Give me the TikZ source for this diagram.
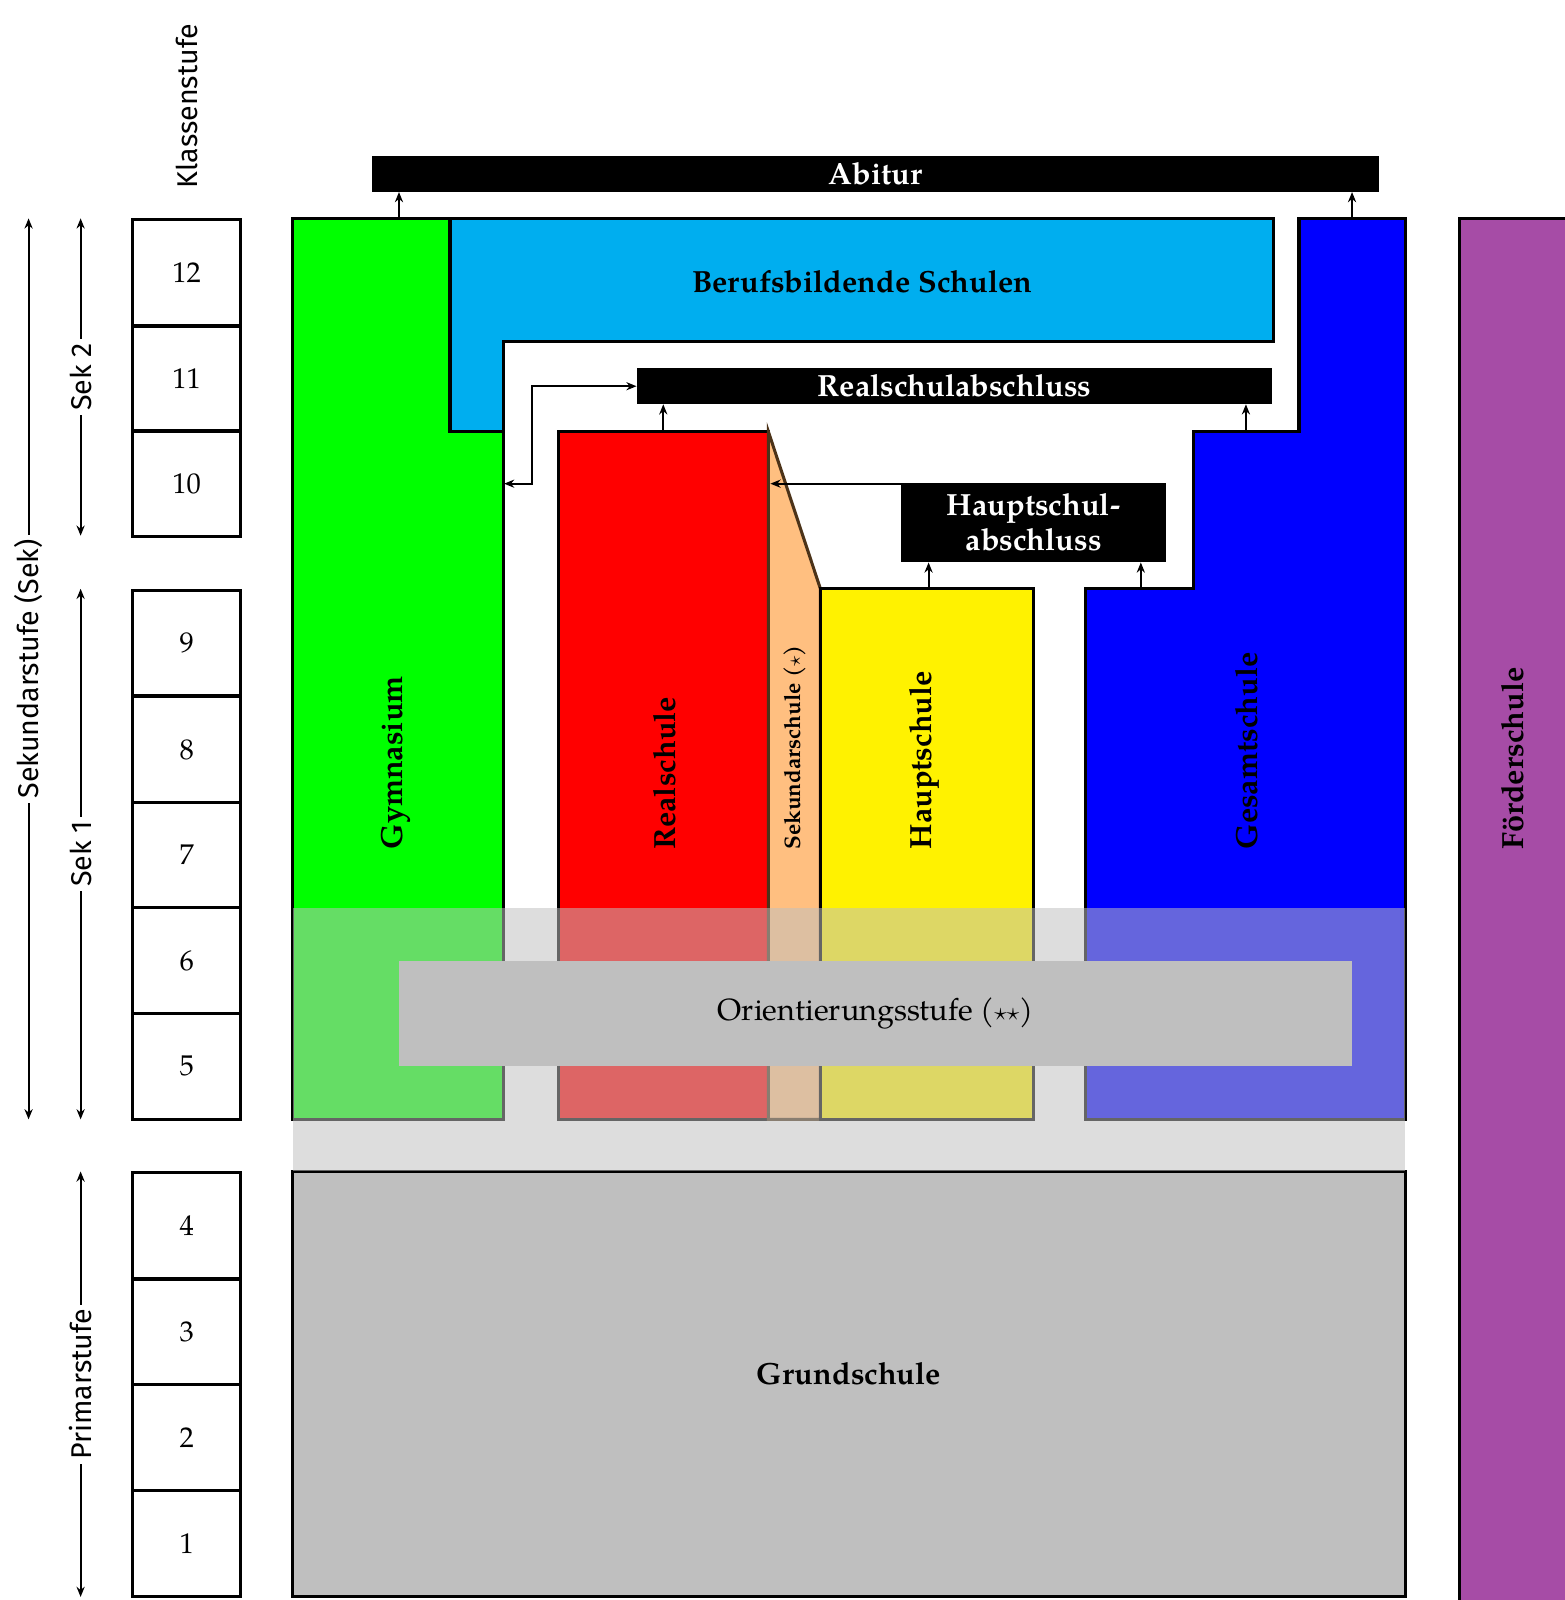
\documentclass[tikz,border=0pt]{standalone}
\usepackage{fontspec}
\setmainfont{TeX Gyre Pagella}
\newfontfamily\sansf{Fira Sans}
\usetikzlibrary{arrows.meta}
\definecolor{gym}{HTML}{00FF00}
\definecolor{bbs}{HTML}{00AEEF}
\definecolor{ges}{HTML}{0000FF}
\definecolor{rs}{HTML}{FF0000}
\definecolor{sek}{HTML}{FFBF80}
\definecolor{hs}{HTML}{FFF200}
\definecolor{foe}{HTML}{A64CA6}
\definecolor{gru}{HTML}{BFBFBF}
\begin{document}
\begin{tikzpicture}[x=1pt,y=-1pt,
  school/.style={draw=black,line width=3pt,line join=miter},
  grade/.style={draw=black,line width=3pt,minimum width=106pt,minimum height=103.5pt,inner sep=0pt,font=\fontsize{28}{30}\selectfont},
  bar/.style={fill=black,text=white,font=\bfseries\fontsize{30}{32}\selectfont,inner sep=0pt},
  vlab/.style={rotate=90,anchor=west,font=\bfseries\fontsize{30}{32}\selectfont},
  slab/.style={rotate=90,font=\sansf\fontsize{28}{30}\selectfont,fill=white,inner sep=4pt},
  arr/.style={line width=2pt,-{Stealth[length=10pt,width=8pt]}},
  darr/.style={line width=2pt,{Stealth[length=10pt,width=8pt]}-{Stealth[length=10pt,width=8pt]}}]
\useasboundingbox (0,0) rectangle (1533,1568);
% schools
\filldraw[school,fill=gym] (287,214) rectangle (493,1097);
\filldraw[school,fill=bbs] (441,214)--(1248,214)--(1248,335)--(493,335)--(493,423)--(441,423)--cycle;
\filldraw[school,fill=ges] (1273,214)--(1377,214)--(1377,1097)--(1064,1097)--(1064,577)--(1170,577)--(1170,423)--(1273,423)--cycle;
\filldraw[school,fill=rs] (547,423) rectangle (753,1097);
\filldraw[school,fill=sek,draw=black!60!brown] (753,423)--(804,577)--(804,1097)--(753,1097)--cycle;
\filldraw[school,fill=hs] (804,577) rectangle (1013,1097);
\filldraw[school,fill=foe] (1430,214) rectangle (1540,1575);
\filldraw[school,fill=gru] (287,1148) rectangle (1377,1565);
% overlay
\fill[gru,opacity=0.53] (287,890) rectangle (1377,1148);
\node[fill=gru,minimum width=934pt,minimum height=103pt,inner sep=0pt,font=\fontsize{30}{32}\selectfont] (ori) at (858,993.5) {Orientierungsstufe ($\star\star$)};
% labels
\node[font=\bfseries\fontsize{30}{32}\selectfont] (bbsl) at (845,276) {Berufsbildende Schulen};
\node[vlab] (gyml) at (388,836) {Gymnasium};
\node[vlab] (rsl) at (651,836) {Realschule};
\node[vlab,font=\bfseries\fontsize{22}{24}\selectfont] (sekl) at (779,836) {Sekundarschule ($\star$)};
\node[vlab] (hsl) at (906,836) {Hauptschule};
\node[vlab] (gesl) at (1222,836) {Gesamtschule};
\node[vlab] (foel) at (1482,836) {Förderschule};
\node[font=\bfseries\fontsize{30}{32}\selectfont] (grul) at (832,1346) {Grundschule};
% bars
\node[bar,minimum width=986pt,minimum height=35pt] (abi) at (858,170.5) {Abitur};
\node[bar,minimum width=623pt,minimum height=35pt] (rsa) at (935.5,378.5) {Realschulabschluss};
\node[bar,minimum width=260pt,minimum height=78pt,align=center,font=\bfseries\fontsize{30}{34}\selectfont] (hsa) at (1013,512) {Hauptschul-\\abschluss};
\coordinate (g1) at (391,214); \coordinate (g2) at (1325,214);
\draw[arr] (g1) -- (g1|-abi.south);
\draw[arr] (g2) -- (g2|-abi.south);
\coordinate (r1) at (650,423); \coordinate (r2) at (1221,423);
\draw[arr] (r1) -- (r1|-rsa.south);
\draw[arr] (r2) -- (r2|-rsa.south);
\coordinate (h1) at (910,577); \coordinate (h2) at (1118,577);
\draw[arr] (h1) -- (h1|-hsa.south);
\draw[arr] (h2) -- (h2|-hsa.south);
\coordinate (gy) at (494,474);
\draw[darr] (rsa.west) -- (521,378.5) -- (521,474) -- (gy);
\coordinate (se) at (755,474);
\draw[arr] (hsa.west|-se) -- (se);
% grades
\foreach \n/\y in {12/267,11/371.5,10/474,9/630,8/734.5,7/838,6/941.5,5/1045,4/1201,3/1305.5,2/1408.5,1/1512.5}
  \node[grade] (k\n) at (183,\y) {\n};
\node[rotate=90,anchor=west,font=\sansf\fontsize{28}{30}\selectfont] (kl) at (183,188) {Klassenstufe};
% stages
\coordinate (s2a) at (79,214); \coordinate (s2b) at (79,525);
\draw[darr] (s2a) -- (s2b) node[midway,slab] {Sek 2};
\coordinate (s1a) at (79,577); \coordinate (s1b) at (79,1097);
\draw[darr] (s1a) -- (s1b) node[midway,slab] {Sek 1};
\coordinate (pa) at (79,1148); \coordinate (pb) at (79,1565);
\draw[darr] (pa) -- (pb) node[midway,slab] {Primarstufe};
\coordinate (sa) at (28,214); \coordinate (sb) at (28,1097);
\draw[darr] (sa) -- (sb) node[midway,slab] {Sekundarstufe (Sek)};
\end{tikzpicture}
\end{document}
